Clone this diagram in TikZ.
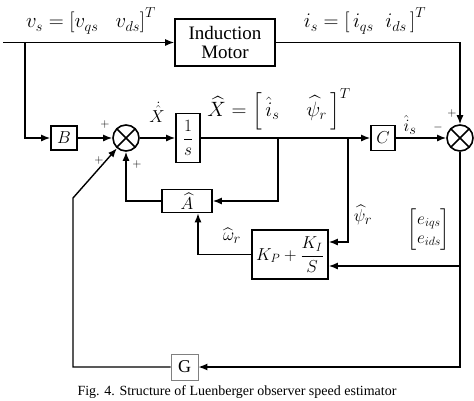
\documentclass[tikz,border=0pt]{standalone}
\usepackage{amsmath}
\usepackage{fontspec}
\setmainfont{Liberation Serif}
\usetikzlibrary{arrows.meta,positioning}

\begin{document}
\begin{tikzpicture}[
    x=1pt, y=-1pt,
    box/.style={draw, line width=1.6pt, align=center, inner sep=0pt,
    font=\fontsize{16}{17}\selectfont},
    gbox/.style={draw=gray, line width=0.8pt, inner sep=0pt,
    font=\fontsize{18}{19}\selectfont},
    sumjn/.style={draw, circle, line width=1.6pt, minimum size=26pt, inner sep=0pt,
    path picture={\draw[line width=1.6pt]
      (path picture bounding box.south west) -- (path picture bounding box.north east)
      (path picture bounding box.north west) -- (path picture bounding box.south east);}},
    lbl/.style={inner sep=0pt, font=\fontsize{19}{21}\selectfont},
    big/.style={inner sep=0pt, font=\fontsize{21}{23}\selectfont},
    pm/.style={inner sep=0pt, font=\fontsize{13}{14}\selectfont},
    arr/.style={-{Latex[length=9pt,width=7pt]}, line width=1.4pt}
]
\useasboundingbox (0,0) rectangle (474,400);
\node[box, minimum width=100pt, minimum height=47pt,
  font=\fontsize{19}{19}\selectfont] (motor) at (225,42.5) {Induction\\Motor};
\node[box, minimum width=26pt, minimum height=24pt] (B) at (64,138) {$B$};
\node[sumjn] (sumA) at (126,138) {};
\node[box, minimum width=24pt, minimum height=49pt] (integ) at (188,138) {$\dfrac{1}{s}$};
\node[box, minimum width=24pt, minimum height=25pt] (C) at (383,138) {$C$};
\node[sumjn] (sumB) at (460,138) {};
\node[box, minimum width=50pt, minimum height=23pt] (Ahat) at (187,201) {$\widehat{A}$};
\node[box, minimum width=76pt, minimum height=49pt,
  font=\fontsize{17}{18}\selectfont] (pi) at (290,254.5) {$K_P+\dfrac{K_I}{S}$};
\node[gbox, minimum width=27pt, minimum height=26pt] (G) at (184.5,367) {G};
\coordinate (vin) at (3,42.5);
\coordinate (tapv) at (25,42.5);
\coordinate (tapx) at (278,138);
\coordinate (tappsi) at (348,138);
\coordinate (tape) at (460,266);
\coordinate (bend) at (73,198);
% signal paths
\draw[arr] (vin) -- (motor.west);
\draw[arr] (tapv) |- (B.west);
\draw[arr] (B) -- (sumA);
\draw[arr] (sumA) -- (integ);
\draw[arr] (integ) -- (C);
\draw[arr] (C) -- (sumB);
\draw[arr] (motor.east) -| (sumB.north);
\draw[arr] (tapx) |- (Ahat.east);
\draw[arr] (Ahat.west) -| (sumA.south);
\draw[arr] (tappsi) |- ([yshift=12.5pt]pi.east);
\draw[arr] (sumB.south) |- (G.east);
\draw[arr] (tape) -- (tape -| pi.east);
\draw[arr] (G.west) -| (bend) -- (sumA);
\draw[arr] (pi.west) -| ([xshift=11pt]Ahat.south);
% labels
\node[big] (vs) at (91,21) {$v_s=\left[v_{qs}\;\;\; v_{ds}\right]^T$};
\node[big] (is) at (365,21) {$i_s=\left[\,i_{qs}\;\; i_{ds}\,\right]^T$};
\node[lbl] (xdot) at (157,112) {$\dot{\hat{X}}$};
\node[big] (xeq) at (279,109) {$\widehat{X}=\left[\,\hat{i}_s\quad\; \widehat{\psi}_r\,\right]^T$};
\node[lbl] (ishat) at (410,125) {$\hat{i}_s$};
\node[lbl] (psir) at (363,215) {$\widehat{\psi}_r$};
\node[lbl] (wr) at (232,236) {$\widehat{\omega}_r$};
\node[lbl, font=\fontsize{17}{19}\selectfont] (evec) at (429,230) {$\begin{bmatrix} e_{iqs}\\ e_{ids}\end{bmatrix}$};
\node[pm] (p1) at (105,124) {$+$};
\node[pm] (p2) at (99,160) {$+$};
\node[pm] (p3) at (137,164) {$+$};
\node[pm] (p4) at (452,113) {$+$};
\node[pm] (m1) at (438,127) {$-$};
\node[font=\fontsize{14}{16}\selectfont] (cap) at (237,392) {Fig. 4. Structure of Luenberger observer speed estimator};
\end{tikzpicture}
\end{document}
